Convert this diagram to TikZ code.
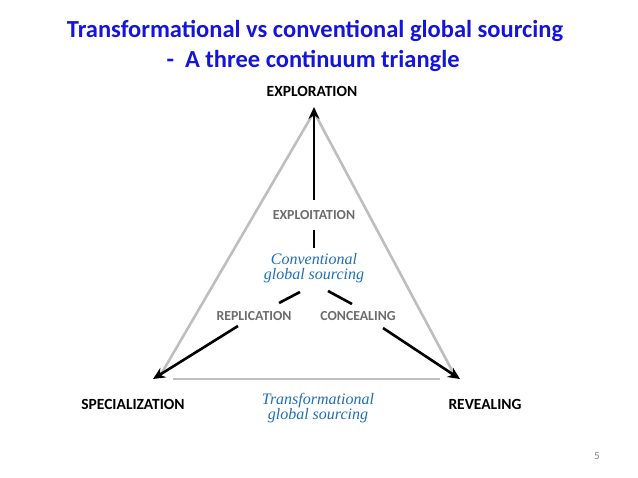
\documentclass[tikz,border=0pt]{standalone}
\usepackage{fontspec}
\setmainfont{Carlito}
\newfontfamily\serifit{Liberation Serif}
\usetikzlibrary{arrows.meta}
\definecolor{tblue}{RGB}{20,20,220}
\definecolor{iblue}{RGB}{30,110,180}
\definecolor{lgray}{RGB}{190,190,190}
\begin{document}
\begin{tikzpicture}[x=1pt,y=-1pt,
  corner/.style={font=\bfseries\fontsize{15.5}{18}\selectfont},
  inner/.style={font=\bfseries\fontsize{13.8}{16}\selectfont,text=gray!85!black},
  ital/.style={font=\serifit\itshape\fontsize{16}{17}\selectfont,text=iblue,align=center},
  side/.style={lgray,line width=2.6pt},
  arr/.style={black,line width=2.6pt,-{Stealth[length=12pt,width=11pt]}},
  seg/.style={black,line width=2.6pt}]
\useasboundingbox (0,0) rectangle (638,478);
\node[font=\bfseries\fontsize{24.5}{29}\selectfont,text=tblue] (title1) at (315,31)
  {Transformational vs conventional global sourcing};
\node[font=\bfseries\fontsize{24.5}{29}\selectfont,text=tblue,anchor=west] (title2) at (163,61)
  {-\ \ A three continuum triangle};
\coordinate (top) at (314,112);
\coordinate (left) at (160,376);
\coordinate (right) at (455,376);
\draw[side] (top) -- (left);
\draw[side] (top) -- (right);
\coordinate (bl) at (173,379);
\coordinate (br) at (440,379);
\draw[side] (bl) -- (br);
\node[corner] (exploration) at (312,91) {EXPLORATION};
\node[corner] (special) at (133,404) {SPECIALIZATION};
\node[corner] (reveal) at (485,404) {REVEALING};
\node[inner] (exploit) at (314,215) {EXPLOITATION};
\node[inner] (repl) at (254,316) {REPLICATION};
\node[inner] (conc) at (358,316) {CONCEALING};
\node[ital] (conv) at (314,268) {Conventional\\[-2pt]global sourcing};
\node[ital] (trans) at (318,408) {Transformational\\[-2pt]global sourcing};
\coordinate (v1) at (314,200);
\coordinate (v2) at (314,230);
\coordinate (v3) at (314,248);
\draw[arr] (v1) -- (314,107);
\draw[seg] (v2) -- (v3);
\coordinate (l1) at (300,292); \coordinate (l2) at (279,303);
\coordinate (l3) at (238,326); \coordinate (l4) at (153,379);
\draw[seg] (l1) -- (l2);
\draw[arr] (l3) -- (l4);
\coordinate (r1) at (328,291); \coordinate (r2) at (352,304);
\coordinate (r3) at (383,328); \coordinate (r4) at (460,379);
\draw[seg] (r1) -- (r2);
\draw[arr] (r3) -- (r4);
\node[font=\fontsize{11}{12}\selectfont,text=gray] (pg) at (597,456) {5};
\end{tikzpicture}
\end{document}
